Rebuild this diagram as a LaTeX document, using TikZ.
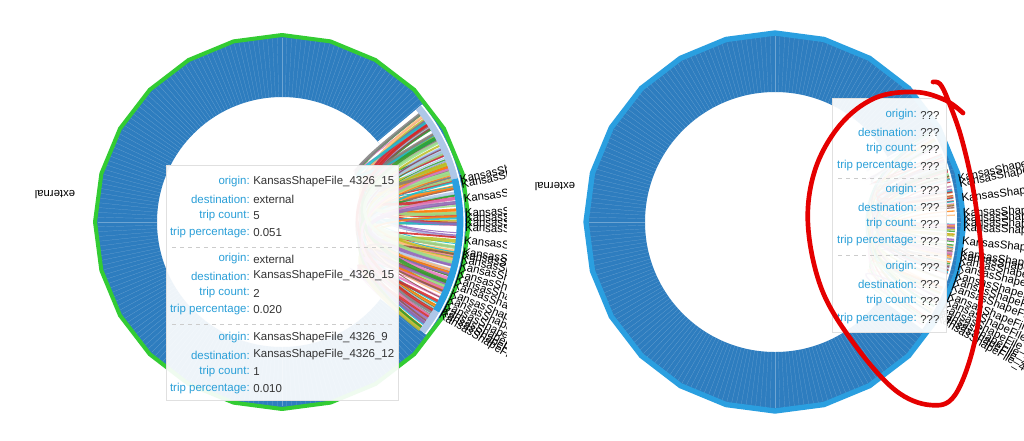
\documentclass[tikz,border=0pt]{standalone}
\usepackage{fontspec}
\setmainfont{Liberation Sans}
\begin{document}
\begin{tikzpicture}[x=0.75pt,y=-0.75pt,
  lab/.style={font=\fontsize{8.6}{10}\selectfont,text=tipblue,anchor=east,inner sep=0pt},
  val/.style={font=\fontsize{8.6}{10}\selectfont,text=black!80,anchor=west,inner sep=0pt},
  kan/.style={font=\fontsize{8.5}{9}\selectfont,anchor=west,inner sep=0pt},
  tipbox/.style={draw=black!12,fill=white,fill opacity=0.92,line width=0.5pt},
  sep/.style={draw=black!20,dashed,line width=0.4pt}]
\definecolor{ringblue}{HTML}{2E7DBF}
\definecolor{edgeblue}{HTML}{2A9FE0}
\definecolor{tipblue}{HTML}{2A9FD8}
\definecolor{ringgreen}{HTML}{33CC33}
\definecolor{c1}{HTML}{FF7F0E}\definecolor{c2}{HTML}{2CA02C}\definecolor{c3}{HTML}{D62728}
\definecolor{c4}{HTML}{9467BD}\definecolor{c5}{HTML}{8C564B}\definecolor{c6}{HTML}{E377C2}
\definecolor{c7}{HTML}{98DF8A}\definecolor{c8}{HTML}{17BECF}\definecolor{c9}{HTML}{AEC7E8}
\definecolor{c10}{HTML}{FFBB78}\definecolor{c11}{HTML}{BCBD22}\definecolor{c12}{HTML}{7F7F7F}
\useasboundingbox (0,0) rectangle (1024,440);
\fill[white] (0,0) rectangle (1024,440);
% ===== LEFT CHART =====
\begin{scope}
\clip (0,0) rectangle (506,440);
\fill[ringblue,even odd rule] plot[samples at={0,15,...,345}] ({282+187*cos(\x)},{222+187*sin(\x)}) -- cycle (282,222) circle[radius=125];
\foreach \a in {0,1.5,...,358.5}
  \draw[ringblue!70!white,line width=0.15pt] ({282+125*cos(\a)},{222+125*sin(\a)}) -- ({282+184*cos(\a)},{222+184*sin(\a)});
\fill[white] (282,222) ++(-40:125) arc[start angle=-40,end angle=38,radius=125] -- ++(38:58) arc[start angle=38,end angle=-40,radius=183] -- cycle;
\pgfmathsetseed{7}
\foreach \i in {1,...,90}{
  \pgfmathsetmacro\aa{-38+76*rnd}
  \pgfmathsetmacro\ab{-38+76*rnd}
  \pgfmathtruncatemacro\cc{mod(\i,12)+1}
  \pgfmathsetmacro\ww{0.6+2.2*rnd}
  \draw[c\cc,line width=\ww pt,opacity=0.85] ({282+175*cos(\aa)},{222+175*sin(\aa)}) .. controls ({282+60*cos(\aa)},{222+60*sin(\aa)}) and ({282+60*cos(\ab)},{222+60*sin(\ab)}) .. ({282+175*cos(\ab)},{222+175*sin(\ab)});
}
\draw[c9,line width=5pt] (282,222) ++(-40:178) arc[start angle=-40,end angle=-14,radius=178];
\draw[edgeblue,line width=5pt] (282,222) ++(-14:178) arc[start angle=-14,end angle=30,radius=178];
\draw[c9,line width=5pt] (282,222) ++(30:178) arc[start angle=30,end angle=38,radius=178];
\draw[ringgreen,line width=3pt,line join=round] plot[samples at={0,15,...,345}] ({282+187*cos(\x)},{222+187*sin(\x)}) -- cycle;
\foreach \a/\n in {-13/15,-11.5/2,-7/9,-2.5/12,-1/3,0.5/8,2/5,6/11,9.5/14,10.5/1,12/7,14/4,16.5/10,18.5/16,20.5/13,23/6,25/17,27/18,28.5/19,29.5/20,30.5/21}
  \node[kan,rotate=-\a] (kl\n) at ({282+183*cos(\a)},{222+183*sin(\a)}) {KansasShapeFile\_4326\_\n};
\end{scope}
\node[kan,rotate=180,anchor=center] (extL) at (55,195) {external};
% tooltip left
\draw[tipbox] (166,165) rectangle (398,400);
\node[lab] (o1) at (250,182) {origin:}; \node[val] at (253,182) {KansasShapeFile\_4326\_15};
\node[lab] (d1) at (250,199) {destination:}; \node[val] at (253,199) {external};
\node[lab] (t1) at (250,216) {trip count:}; \node[val] at (253,216) {5};
\node[lab] (p1) at (250,233) {trip percentage:}; \node[val] at (253,233) {0.051};
\draw[sep] (172,247) -- (392,247);
\node[lab] (o2) at (250,259) {origin:}; \node[val] at (253,259) {external};
\node[lab] (d2) at (250,276) {destination:}; \node[val] at (253,276) {KansasShapeFile\_4326\_15};
\node[lab] (t2) at (250,293) {trip count:}; \node[val] at (253,293) {2};
\node[lab] (p2) at (250,310) {trip percentage:}; \node[val] at (253,310) {0.020};
\draw[sep] (172,324) -- (392,324);
\node[lab] (o3) at (250,338) {origin:}; \node[val] at (253,338) {KansasShapeFile\_4326\_9};
\node[lab] (d3) at (250,355) {destination:}; \node[val] at (253,355) {KansasShapeFile\_4326\_12};
\node[lab] (t3) at (250,372) {trip count:}; \node[val] at (253,372) {1};
\node[lab] (p3) at (250,389) {trip percentage:}; \node[val] at (253,389) {0.010};
% ===== RIGHT CHART =====
\begin{scope}
\clip (506,0) rectangle (1024,440);
\fill[ringblue,even odd rule] plot[samples at={0,15,...,345}] ({775+189*cos(\x)},{222+189*sin(\x)}) -- cycle (775,222) circle[radius=130];
\foreach \a in {0,1.5,...,358.5}
  \draw[ringblue!70!white,line width=0.15pt] ({775+130*cos(\a)},{222+130*sin(\a)}) -- ({775+186*cos(\a)},{222+186*sin(\a)});
\fill[white] (775,222) ++(-30:130) arc[start angle=-30,end angle=36,radius=130] -- ++(36:52) arc[start angle=36,end angle=-30,radius=182] -- cycle;
\pgfmathsetseed{11}
\foreach \i in {1,...,80}{
  \pgfmathsetmacro\aa{-30+66*rnd}
  \pgfmathsetmacro\ab{-30+66*rnd}
  \pgfmathtruncatemacro\cc{mod(\i,12)+1}
  \draw[c\cc,line width=1pt,opacity=0.8] ({775+180*cos(\aa)},{222+180*sin(\aa)}) .. controls ({775+80*cos(\aa)},{222+80*sin(\aa)}) and ({775+80*cos(\ab)},{222+80*sin(\ab)}) .. ({775+180*cos(\ab)},{222+180*sin(\ab)});
}
\draw[edgeblue,line width=4pt,line join=round] plot[samples at={0,15,...,345}] ({775+189*cos(\x)},{222+189*sin(\x)}) -- cycle;
\foreach \a/\n in {-13/15,-11.5/2,-7/9,-2.5/12,-1/3,0.5/8,2/5,6/11,9.5/14,10.5/1,12/7,14/4,16.5/10,18.5/16,20.5/13,23/6,25/17,27/18,28.5/19,29.5/20,30.5/21}
  \node[kan,rotate=-\a] (kr\n) at ({775+188*cos(\a)},{222+188*sin(\a)}) {KansasShapeFile\_4326\_\n};
\end{scope}
\node[kan,rotate=180,anchor=center] (extR) at (555,187) {external};
% tooltip right
\draw[tipbox] (832,98) rectangle (946,332);
\foreach \y [count=\k] in {115,132,149,166,190,207,224,241,267,284,301,319}{
  \node[val] (q\k) at (920,\y) {???};
}
\foreach \y/\t [count=\k] in {115/origin:,132/destination:,149/trip count:,166/trip percentage:,190/origin:,207/destination:,224/trip count:,241/trip percentage:,267/origin:,284/destination:,301/trip count:,319/trip percentage:}{
  \node[lab] (r\k) at (917,\y) {\t};
}
\draw[sep] (838,178) -- (940,178);
\draw[sep] (838,255) -- (940,255);
% red loop
\draw[red!90!black,line width=3.5pt,line cap=round,line join=round] plot[smooth,tension=0.6] coordinates {(933,82) (940,84) (948,100) (962,140) (975,200) (982,270) (975,340) (955,395) (930,405) (895,390) (855,345) (822,290) (808,225) (815,170) (840,125) (875,98) (915,92) (945,100) (963,113)};
\end{tikzpicture}
\end{document}
